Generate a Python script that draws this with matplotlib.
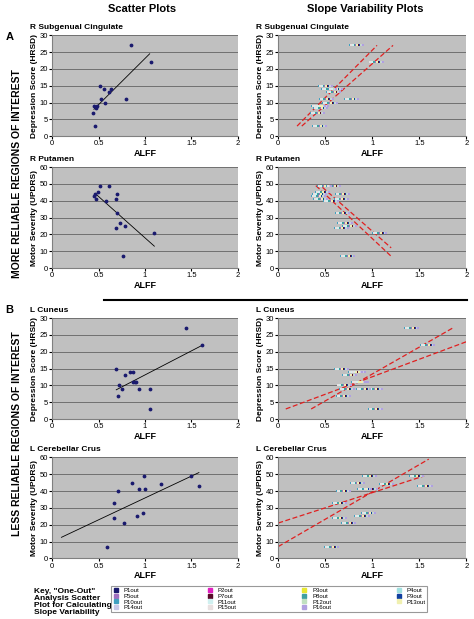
import matplotlib.pyplot as plt
from matplotlib.lines import Line2D

# --- data ---
sg_x = [0.44, 0.45, 0.46, 0.47, 0.48, 0.52, 0.53, 0.56, 0.57, 0.61, 0.63, 0.80, 0.85, 1.06]
sg_y = [7, 9, 3, 8.5, 9, 15, 11, 14, 10, 13, 14, 11, 27, 22]
sg_fit = ([0.45, 1.05], [8, 24.5])
sg_var = [([0.2, 1.05], [3, 27]), ([0.25, 1.22], [3, 27])]

pu_x = [0.45, 0.46, 0.47, 0.49, 0.51, 0.58, 0.61, 0.69, 0.70, 0.70, 0.69, 0.73, 0.78, 0.76, 1.10]
pu_y = [43, 44, 41, 45, 49, 40, 49, 41, 44, 33, 24, 27, 25, 7, 21]
pu_fit = ([0.47, 1.10], [44, 13])
pu_var = [([0.40, 1.20], [49, 7]), ([0.47, 1.20], [48, 12])]

cu_x = [0.69, 0.71, 0.72, 0.75, 0.78, 0.84, 0.87, 0.87, 0.89, 0.90, 0.93, 1.05, 1.05, 1.44, 1.61]
cu_y = [15, 7, 10, 9, 13, 14, 14, 11, 11, 11, 9, 9, 3, 27, 22]
cu_fit = ([0.69, 1.62], [8.7, 22])
cu_var = [([0.08, 2.0], [3, 23]), ([0.35, 1.85], [3, 27])]

cb_x = [0.59, 0.67, 0.67, 0.71, 0.77, 0.86, 0.91, 0.94, 0.98, 0.99, 1.00, 1.17, 1.49, 1.58]
cb_y = [7, 33, 24, 40, 21, 45, 25, 41, 27, 49, 41, 44, 49, 43]
cb_fit = ([0.10, 1.58], [12.5, 51])
cb_var = [([0.0, 1.55], [21, 49]), ([0.0, 1.60], [7, 59])]

key_labels = ['P1out', 'P2out', 'P3out', 'P4out', 'P5out', 'P7out', 'P8out', 'P9out',
              'P10out', 'P11out', 'P12out', 'P13out', 'P14out', 'P15out', 'P16out']
key_colors = ['#1a1a6e', '#e020c0', '#e8e830', '#a0e0e0', '#a070c0', '#5a0a2a', '#40a0a0',
              '#1040a0', '#40a0c0', '#d0f0f0', '#c0e0c0', '#f0f0b0', '#c8c8e8', '#e8e0e0', '#b0a0e0']
# small horizontal shift of each "one-out" copy of the points
key_shift = [0.0, -0.03, -0.05, -0.07, -0.02, 0.01, -0.04, 0.02, -0.09, -0.06, 0.03,
             -0.01, 0.04, -0.08, 0.05]

panels = [
    ('R Subgenual Cingulate', 'Depression Score (HRSD)', 30, 5, sg_x, sg_y, sg_fit, sg_var),
    ('R Putamen', 'Motor Severity (UPDRS)', 60, 10, pu_x, pu_y, pu_fit, pu_var),
    ('L Cuneus', 'Depression Score (HRSD)', 30, 5, cu_x, cu_y, cu_fit, cu_var),
    ('L Cerebellar Crus', 'Motor Severity (UPDRS)', 60, 10, cb_x, cb_y, cb_fit, cb_var),
]
rows_bottom = [0.780, 0.567, 0.323, 0.098]
h = 0.163

fig = plt.figure(figsize=(4.74, 6.19), dpi=100)
plt.rcParams['font.family'] = ['Liberation Sans', 'DejaVu Sans']


def style(ax, ymax, ystep, ylabel, title):
    ax.set_facecolor('#c0c0c0')
    ax.set_xlim(0, 2)
    ax.set_ylim(0, ymax)
    ax.set_xticks([0, 0.5, 1, 1.5, 2])
    ax.set_xticklabels(['0', '0.5', '1', '1.5', '2'])
    ax.set_yticks(range(0, ymax + 1, ystep))
    ax.tick_params(labelsize=5.5, length=2, pad=1)
    ax.yaxis.grid(True, color='#707070', lw=0.7)
    ax.set_axisbelow(True)
    for s in ['top', 'right']:
        ax.spines[s].set_visible(False)
    for s in ['left', 'bottom']:
        ax.spines[s].set_color('#808080')
    ax.set_xlabel('ALFF', fontsize=6.5, fontweight='bold', labelpad=1)
    ax.set_ylabel(ylabel, fontsize=6, fontweight='bold', labelpad=1)
    ax.text(-0.12, 1.06, title, transform=ax.transAxes, fontsize=6, fontweight='bold')


for (title, ylabel, ymax, ystep, xs, ys, fit, var), b in zip(panels, rows_bottom):
    ax = fig.add_axes([0.110, b, 0.392, h])
    style(ax, ymax, ystep, ylabel, title)
    ax.scatter(xs, ys, s=3, color='#1a1a6e', zorder=3)
    ax.plot(fit[0], fit[1], color='black', lw=0.6)

    ax2 = fig.add_axes([0.587, b, 0.397, h])
    style(ax2, ymax, ystep, ylabel, title)
    for c, dx in zip(key_colors, key_shift):
        ax2.scatter([x + dx for x in xs], ys, s=3, color=c, marker='s', zorder=3, linewidths=0)
    for lx, ly in var:
        ax2.plot(lx, ly, color='#e02020', lw=0.9, ls=(0, (4, 2)))

fig.text(0.30, 0.985, 'Scatter Plots', fontsize=8, fontweight='bold', ha='center', va='center')
fig.text(0.77, 0.985, 'Slope Variability Plots', fontsize=8, fontweight='bold', ha='center', va='center')
fig.text(0.012, 0.935, 'A', fontsize=8, fontweight='bold')
fig.text(0.012, 0.495, 'B', fontsize=8, fontweight='bold')
fig.text(0.035, 0.72, 'MORE RELIABLE REGIONS OF INTEREST', rotation=90, fontsize=7.5,
         fontweight='bold', ha='center', va='center')
fig.text(0.035, 0.30, 'LESS RELIABLE REGIONS OF INTEREST', rotation=90, fontsize=7.5,
         fontweight='bold', ha='center', va='center')
fig.add_artist(Line2D([0.22, 0.985], [0.515, 0.515], color='black', lw=1.5))

fig.text(0.072, 0.005, 'Key, "One-Out"\nAnalysis Scatter\nPlot for Calculating\nSlope Variability',
         fontsize=6, fontweight='bold', va='bottom', linespacing=1.0)

# legend is read row by row in the reference; matplotlib fills column by column
order = [r * 4 + c for c in range(4) for r in range(4) if r * 4 + c < len(key_labels)]
handles = [Line2D([], [], marker='s', ls='', color=key_colors[i], markersize=2.5) for i in order]
labels = [key_labels[i] for i in order]
leg = fig.legend(handles, labels, loc='upper left', bbox_to_anchor=(0.228, 0.058, 0.68, 0.0),
                 mode='expand', ncol=4, fontsize=4.3, frameon=True, fancybox=False,
                 edgecolor='#808080', handlelength=1, borderpad=0.25, labelspacing=0.12,
                 columnspacing=1, handletextpad=0.8)
leg.get_frame().set_linewidth(0.8)

fig.savefig('out.png', dpi=100)
